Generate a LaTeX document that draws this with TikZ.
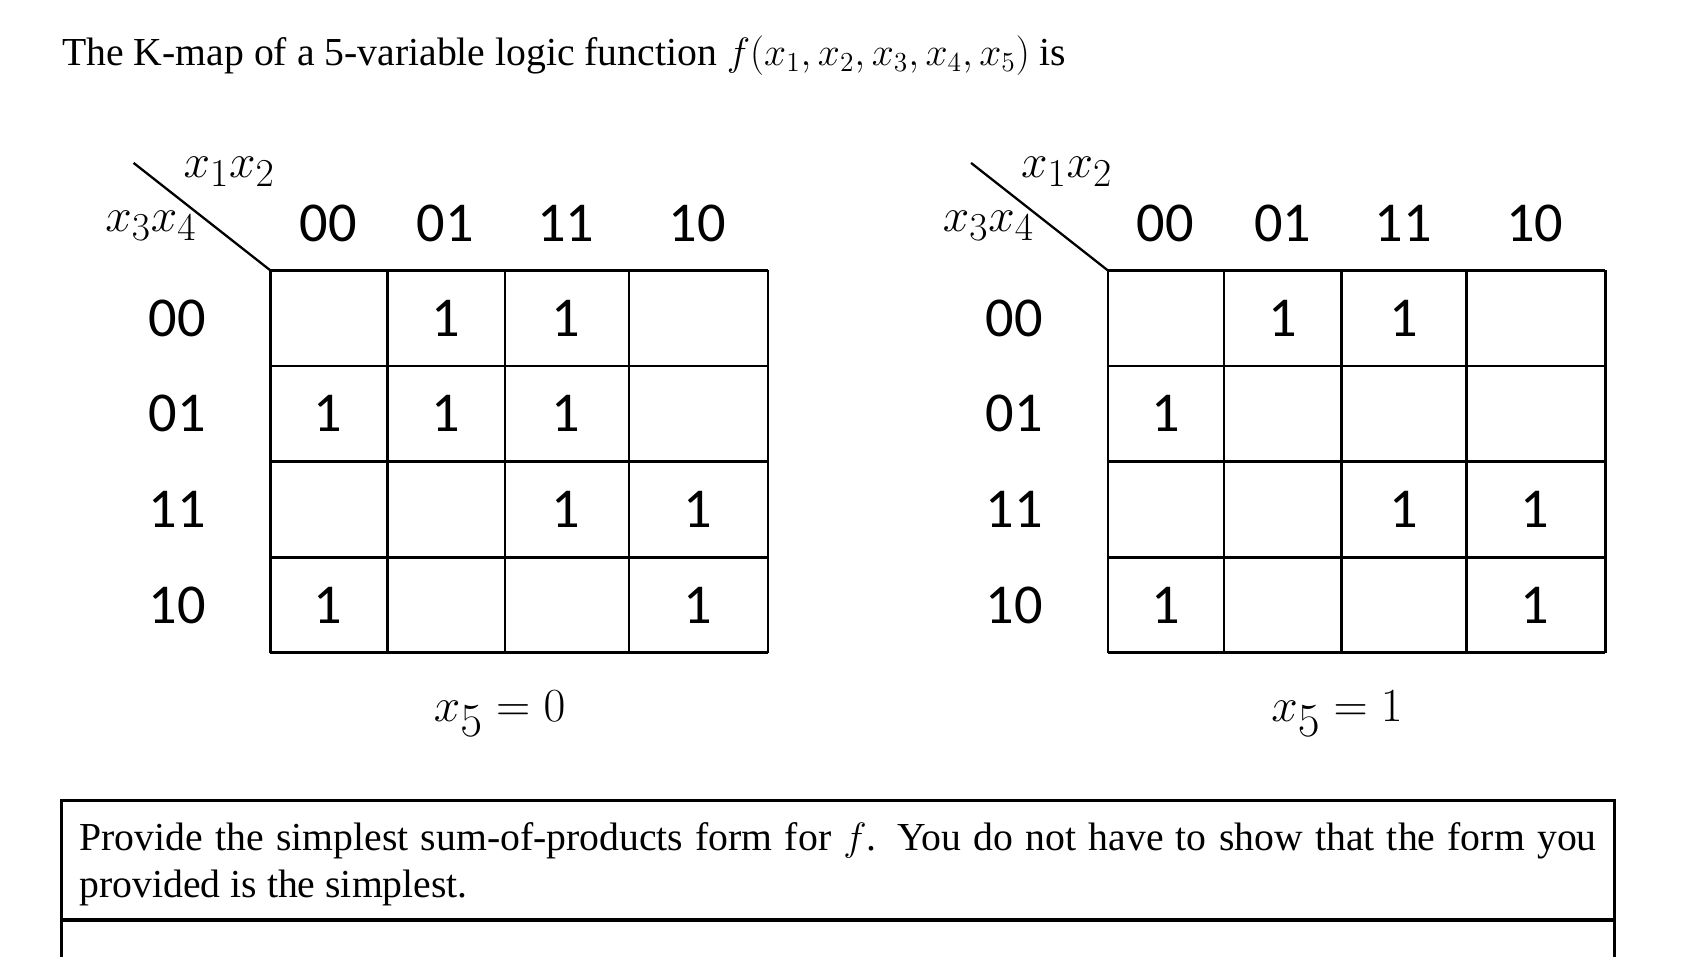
\documentclass[tikz,border=0pt]{standalone}
\usepackage{fontspec}
\usepackage{amsmath}
\setmainfont{Liberation Serif}
\newfontfamily\dig{Carlito}
\begin{document}
\begin{tikzpicture}[x=0.02cm,y=-0.02cm,
  dg/.style={font=\dig\fontsize{29.5}{34}\selectfont,inner sep=0},
  mt/.style={font=\fontsize{30}{34}\selectfont,inner sep=0},
  mb/.style={font=\fontsize{34}{38}\selectfont,inner sep=0},
  gl/.style={line width=1.4pt}]
\useasboundingbox (0,0) rectangle (1567,880.2);
\node[anchor=base west,inner sep=0,font=\fontsize{20.8}{26}\selectfont] (title) at (57,60) {The K-map of a 5-variable logic function $f(x_1,x_2,x_3,x_4,x_5)$ is};
\foreach \xs/\nm/\val in {{249,357,465,579,707}/A/0, {1020,1127,1235,1350,1478}/B/1}{
  \foreach \x in \xs { \draw[gl] (\x,249) -- (\x,601); }
  \pgfmathsetmacro\xa{{\xs}[0]}
  \pgfmathsetmacro\xb{{\xs}[4]}
  \foreach \y in {249,337,425,513,601} { \draw[gl] (\xa,\y) -- (\xb,\y); }
  \coordinate (\nm d1) at (\xa-126,150);
  \coordinate (\nm d2) at (\xa,249);
  \draw[line width=1.2pt] (\nm d1) -- (\nm d2);
  \node[mt] (\nm x12) at (\xa-38,158) {$x_1x_2$};
  \node[mt] (\nm x34) at (\xa-110,208) {$x_3x_4$};
  \node[mb] (\nm x5) at (\xa+211,657) {$x_5=\val$};
}
\foreach \c/\x in {00/302,01/410,11/521,10/642}{\node[dg] (Lc\c) at (\x,206) {\c};}
\foreach \c/\x in {00/1073,01/1181,11/1292,10/1413}{\node[dg] (Rc\c) at (\x,206) {\c};}
\foreach \r/\y in {00/293,01/381,11/469,10/557}{\node[dg] (Lr\r) at (163,\y) {\r}; \node[dg] (Rr\r) at (934,\y) {\r};}
\foreach \x/\y [count=\i] in {410/293,521/293,302/381,410/381,521/381,521/469,642/469,302/557,642/557}{\node[dg] (Lo\i) at (\x,\y) {1};}
\foreach \x/\y [count=\i] in {1181/293,1292/293,1073/381,1292/469,1413/469,1073/557,1413/557}{\node[dg] (Ro\i) at (\x,\y) {1};}
\draw[line width=1.6pt] (57,885) -- (57,737) -- (1486,737) -- (1486,885);
\draw[line width=1.6pt] (57,847) -- (1486,847);
\node[anchor=base west,inner sep=0,text width=27.94cm,font=\fontsize{20.8}{24.5}\selectfont,align=justify] (q) at (73,783) {Provide the simplest sum-of-products form for $f$. You do not have to show that the form you provided is the simplest.};
\end{tikzpicture}
\end{document}
